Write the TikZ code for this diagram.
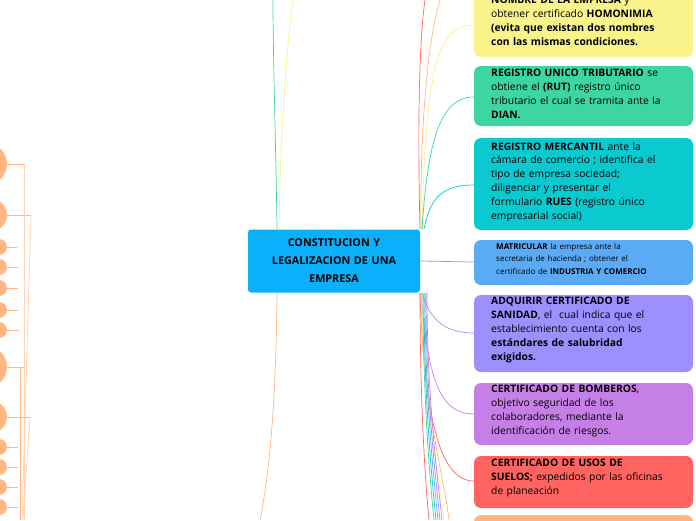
\documentclass[tikz,border=0pt]{standalone}
\usepackage{fontspec}
\setmainfont{Open Sans}
\begin{document}
\begin{tikzpicture}[x=1pt,y=-1pt,
 box/.style={rounded corners=7pt,text width=195pt,align=left,inner sep=0pt,font=\fontsize{10.3}{13.9}\selectfont,anchor=north west},
 conn/.style={line width=0.7pt}]
\useasboundingbox (0,0) rectangle (696,520);
\definecolor{cy}{HTML}{F8F38A}\definecolor{cg}{HTML}{3DD6A0}\definecolor{ct}{HTML}{0ACACF}
\definecolor{cb}{HTML}{5BAAF6}\definecolor{cp}{HTML}{9E8FFF}\definecolor{cv}{HTML}{C77FE8}
\definecolor{cr}{HTML}{FF6461}\definecolor{co}{HTML}{FFB682}\definecolor{cc}{HTML}{0BB0FB}
% boxes
\fill[cy,rounded corners=7pt] (474,-20) rectangle (693,57);
\fill[cg,rounded corners=7pt] (474,66) rectangle (693,126);
\fill[ct,rounded corners=7pt] (474,138) rectangle (693,230);
\fill[cb,rounded corners=7pt] (474,240) rectangle (693,285);
\fill[cp,rounded corners=7pt] (474,295) rectangle (693,372);
\fill[cv,rounded corners=7pt] (474,383) rectangle (693,445);
\fill[cr,rounded corners=7pt] (474,456) rectangle (693,508);
\fill[co,rounded corners=7pt] (474,515) rectangle (693,540);
\coordinate (y) at (474,25);\coordinate (g) at (474,97);\coordinate (t) at (474,185);
\coordinate (b) at (474,262);\coordinate (p) at (474,333);\coordinate (v) at (474,414);
\coordinate (r) at (474,481);
\node[box] at (491,-4) {\textbf{NOMBRE DE LA EMPRESA} y\\obtener certificado \textbf{HOMONIMIA}\\\textbf{(evita que existan dos nombres}\\\textbf{con las mismas condiciones.}};
\node[box] at (491,69) {\textbf{REGISTRO UNICO TRIBUTARIO} se\\obtiene el \textbf{(RUT)} registro único\\tributario el cual se tramita ante la\\\textbf{DIAN.}};
\node[box] at (491,142) {\textbf{REGISTRO MERCANTIL} ante la\\cámara de comercio ; identifica el\\tipo de empresa sociedad;\\diligenciar y presentar el\\formulario \textbf{RUES} (registro único\\empresarial social)};
\node[box,font=\fontsize{8}{12.5}\selectfont] at (496,243) {\textbf{MATRICULAR} la empresa ante la\\secretaria de hacienda ; obtener el\\certificado de \textbf{INDUSTRIA Y COMERCIO}};
\node[box] at (491,297) {\textbf{ADQUIRIR CERTIFICADO DE}\\\textbf{SANIDAD}, el\ \ cual indica que el\\establecimiento cuenta con los\\\textbf{estándares de salubridad}\\\textbf{exigidos.}};
\node[box] at (491,385) {\textbf{CERTIFICADO DE BOMBEROS},\\objetivo seguridad de los\\colaboradores, mediante la\\identificación de riesgos.};
\node[box] at (491,459) {\textbf{CERTIFICADO DE USOS DE}\\\textbf{SUELOS;} expedidos por las oficinas\\de planeación};
% center
\node[fill=cc,rounded corners=3pt,minimum width=172pt,minimum height=63pt,text width=160pt,align=center,inner sep=0pt,font=\fontsize{10.8}{18}\selectfont\bfseries] (c) at (334,261) {CONSTITUCION Y\\LEGALIZACION DE UNA\\EMPRESA};
% right connectors
\draw[conn,cy] (c.north east)++(2,0) .. controls (425,60) and (440,25) .. (y);
\draw[conn,cg] (422,229) .. controls (428,140) and (440,97) .. (g);
\draw[conn,ct] (424,229) .. controls (430,200) and (440,185) .. (t);
\draw[conn,cb] (c.east) -- (b);
\draw[conn,cp] (422,293) .. controls (430,320) and (445,333) .. (p);
\draw[conn,cv] (421,293) .. controls (428,380) and (440,414) .. (v);
\draw[conn,cr] (420,293) .. controls (425,420) and (440,481) .. (r);
\draw[conn,cr] (420,229) .. controls (418,150) and (418,50) .. (425,0);
\draw[conn,co] (421,229) .. controls (420,150) and (425,50) .. (440,0);
\foreach \col/\xa/\xb in {cr/420/425,co/421/445,cy/422/440,cg/423/430,ct/424/432,cb/425/434,cp/426/436,cv/427/438}
  \draw[conn,\col] (\xa,293) .. controls (\xa,400) and (\xb,480) .. (\xb+4,520);
% left connectors
\draw[conn,cg] (277,229) .. controls (276,150) and (273,60) .. (273,0);
\draw[conn,cy] (279,229) .. controls (280,150) and (285,60) .. (293,0);
\draw[conn,co] (277,293) .. controls (276,400) and (270,470) .. (260,520);
% left orange nodes
\foreach \yy/\r in {164/21,215/16,247/8,267/8,288/8,310/8,330/8,367/21,417/16,447/8,467/8,487/8,507/8}
  \fill[co] (7-\r,\yy) circle[radius=\r];
\draw[co!60,line width=0.8pt] (24,164) -- (24,520);
\draw[co!60,line width=0.8pt] (31,215) -- (22,520);
\draw[co!60,line width=0.8pt] (30,417) -- (23,520);
\draw[co,line width=0.9pt] (20,367) -- (20,520);
\foreach \yy/\xe in {164/24,215/31,247/17,267/18,288/18,310/18,330/19,367/24,417/30,447/18,467/18,487/18,507/18}
  \draw[co,line width=0.8pt] (7,\yy) -- (\xe,\yy);
\end{tikzpicture}
\end{document}
